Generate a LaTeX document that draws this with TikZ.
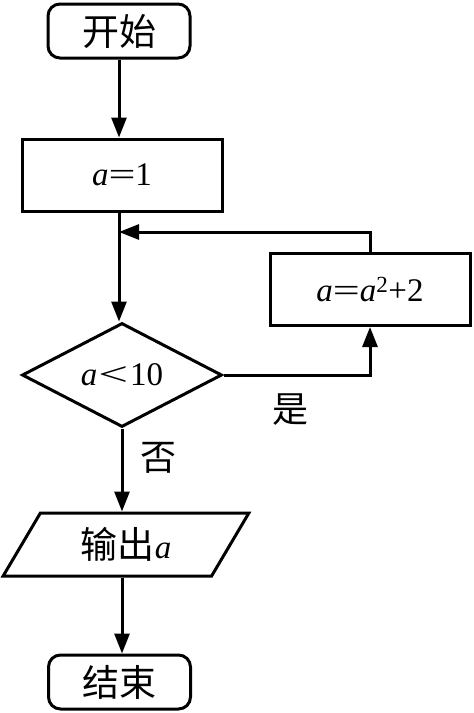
\documentclass[tikz,border=0pt]{standalone}
\usepackage{fontspec}
\usepackage{graphicx}
\setmainfont{Liberation Serif}
\newfontfamily\cjk{Noto Sans CJK SC}
\usetikzlibrary{shapes.geometric,arrows.meta}
\newcommand{\myeq}{\scalebox{1.45}[1]{=}}
\newcommand{\mylt}{\kern1pt\scalebox{1.6}[1]{<}\kern2pt}
\begin{document}
\begin{tikzpicture}[x=1pt,y=-1pt,line width=3pt,
  >={Triangle[length=20pt,width=15pt]},
  txt/.style={font=\fontsize{33}{33}\selectfont},
  box/.style={draw,rectangle,inner sep=0pt,txt},
  term/.style={box,rounded corners=12pt,minimum width=142pt,minimum height=54pt},
  proc/.style={box,minimum width=200pt,minimum height=72pt},
  dec/.style={draw,diamond,inner sep=0pt,aspect=1.9,minimum width=200pt,minimum height=104pt,txt},
  io/.style={draw,trapezium,trapezium left angle=60,trapezium right angle=120,trapezium stretches=true,inner sep=0pt,minimum width=246pt,minimum height=63pt,txt},
  cj/.style={font=\fontsize{37}{37}\selectfont\cjk},
  lbl/.style={font=\fontsize{36}{36}\selectfont\cjk}]
\useasboundingbox (0,0) rectangle (474,713);
\node[term] (s) at (119,31) {{\fontsize{37}{37}\selectfont\cjk 开始}};
\node[proc] (a1) at (122,175) {\textit{a}\myeq1};
\node[proc] (u) at (370,289.5) {\textit{a}\myeq\textit{a}\textsuperscript{2}+2};
\node[dec] (d) at (122,375) {\textit{a}\mylt10};
\node[io] (o) at (126,544.5) {{\fontsize{37}{37}\selectfont\cjk 输出}\textit{a}};
\node[term] (e) at (119.5,682) {{\fontsize{37}{37}\selectfont\cjk 结束}};
\coordinate (m) at (119,232);
\node[lbl] (yes) at (290,410) {是};
\node[lbl] (no) at (158,458) {否};
\draw[->] (s.south) -- (s.south |- a1.north);
\draw[->] (s.south |- a1.south) -- (s.south |- d.north);
\draw[->] (u.north) |- (m);
\draw[->] (d.east) -| (u.south);
\draw[->] (d.south) -- (d.south |- o.north);
\draw[->] (d.south |- o.south) -- (d.south |- e.north);
\end{tikzpicture}
\end{document}
